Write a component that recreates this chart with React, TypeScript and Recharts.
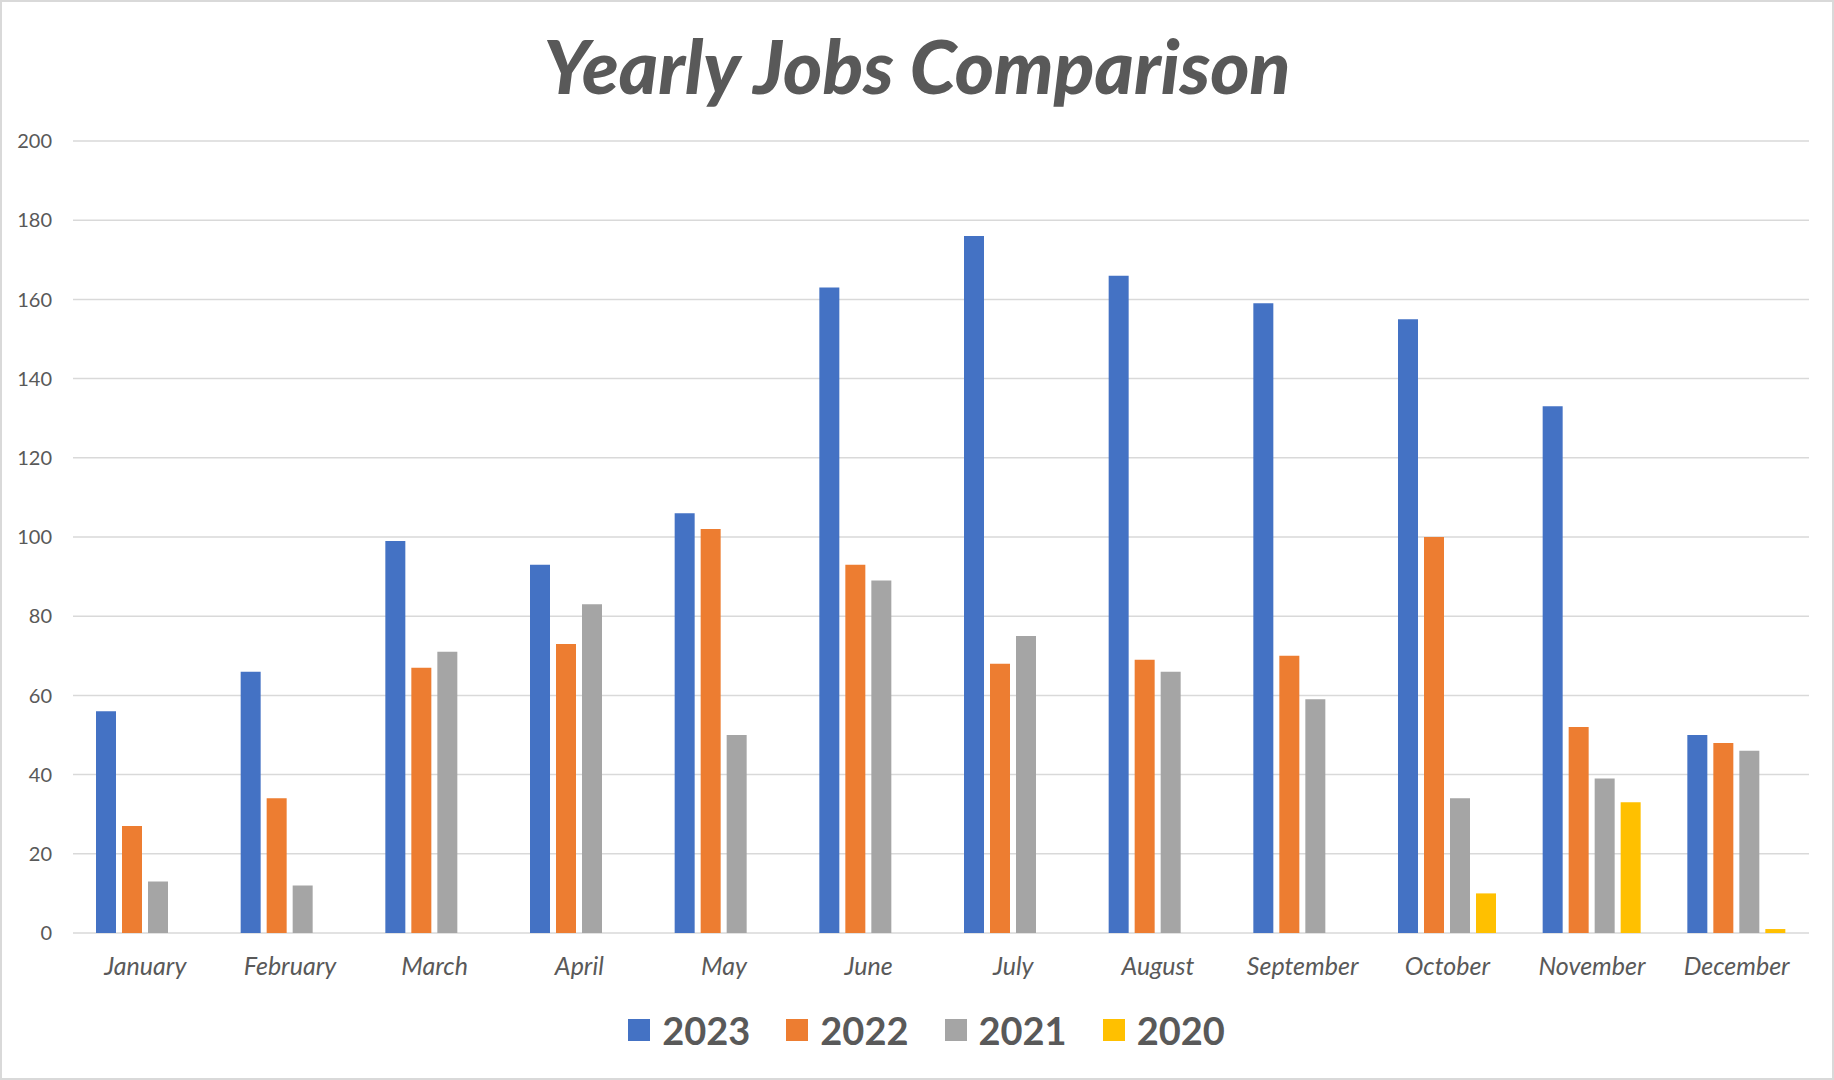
import { BarChart, Bar, XAxis, YAxis, CartesianGrid, Legend } from 'recharts'

const months = ['January', 'February', 'March', 'April', 'May', 'June', 'July', 'August', 'September', 'October', 'November', 'December']
const jobs2023 = [56, 66, 99, 93, 106, 163, 176, 166, 159, 155, 133, 50]
const jobs2022 = [27, 34, 67, 73, 102, 93, 68, 69, 70, 100, 52, 48]
const jobs2021 = [13, 12, 71, 83, 50, 89, 75, 66, 59, 34, 39, 46]
const jobs2020 = [0, 0, 0, 0, 0, 0, 0, 0, 0, 10, 33, 1]
const yTicks = [0, 20, 40, 60, 80, 100, 120, 140, 160, 180, 200]

const series = [
  { key: 'y2023', name: '2023', color: '#4472C4' },
  { key: 'y2022', name: '2022', color: '#ED7D31' },
  { key: 'y2021', name: '2021', color: '#A5A5A5' },
  { key: 'y2020', name: '2020', color: '#FFC000' },
]

const data = months.map((m, i) => ({
  month: m,
  y2023: jobs2023[i],
  y2022: jobs2022[i],
  y2021: jobs2021[i],
  y2020: jobs2020[i],
}))

const textColor = '#595959'

function LegendContent({ payload }: any) {
  // keep the series order, not the sorted payload order
  const items = series.map((s) => (payload || []).find((p: any) => p.value === s.name) || { value: s.name, color: s.color })
  return (
    <div
      style={{
        height: 60,
        paddingLeft: 44,
        boxSizing: 'border-box',
        display: 'flex',
        justifyContent: 'center',
        alignItems: 'center',
        gap: 36,
      }}
    >
      {items.map((p: any) => (
        <div key={p.value} style={{ display: 'flex', alignItems: 'center', gap: 12 }}>
          <span style={{ width: 22, height: 22, background: p.color, display: 'inline-block' }} />
          <span style={{ fontFamily: 'Lato', fontWeight: 700, fontSize: 38, color: textColor, lineHeight: 1 }}>
            {p.value}
          </span>
        </div>
      ))}
    </div>
  )
}

export default function App() {
  return (
    <div
      style={{
        position: 'relative',
        width: 1834,
        height: 1080,
        boxSizing: 'border-box',
        border: '2px solid #d9d9d9',
        background: '#fff',
      }}
    >
      <style>{'body { margin: 0; }'}</style>
      <div
        style={{
          position: 'absolute',
          left: 0,
          right: 0,
          top: 22,
          textAlign: 'center',
          fontFamily: 'Lato',
          fontWeight: 900,
          fontStyle: 'italic',
          fontSize: 75,
          color: textColor,
          lineHeight: 1.1,
        }}
      >
        Yearly Jobs Comparison
      </div>
      <div style={{ position: 'absolute', left: -2, top: -2 }}>
        <BarChart
          width={1834}
          height={1080}
          data={data}
          margin={{ top: 141, right: 25, bottom: 20, left: 0 }}
          barCategoryGap={23}
          barGap={6}
        >
          <CartesianGrid vertical={false} stroke="#d9d9d9" strokeWidth={1.5} />
          <XAxis
            dataKey="month"
            axisLine={false}
            tickLine={false}
            tickSize={0}
            tickMargin={24}
            height={67}
            interval={0}
            tick={{ fill: textColor, fontSize: 25, fontFamily: 'Lato', fontStyle: 'italic' }}
          />
          <YAxis
            domain={[0, 200]}
            ticks={yTicks}
            axisLine={false}
            tickLine={false}
            tickSize={0}
            tickMargin={21}
            width={73}
            tick={{ fill: textColor, fontSize: 20, fontFamily: 'Lato' }}
          />
          <Legend verticalAlign="bottom" content={<LegendContent />} />
          {series.map((s) => (
            <Bar key={s.key} dataKey={s.key} name={s.name} fill={s.color} isAnimationActive={false} />
          ))}
        </BarChart>
      </div>
    </div>
  )
}
